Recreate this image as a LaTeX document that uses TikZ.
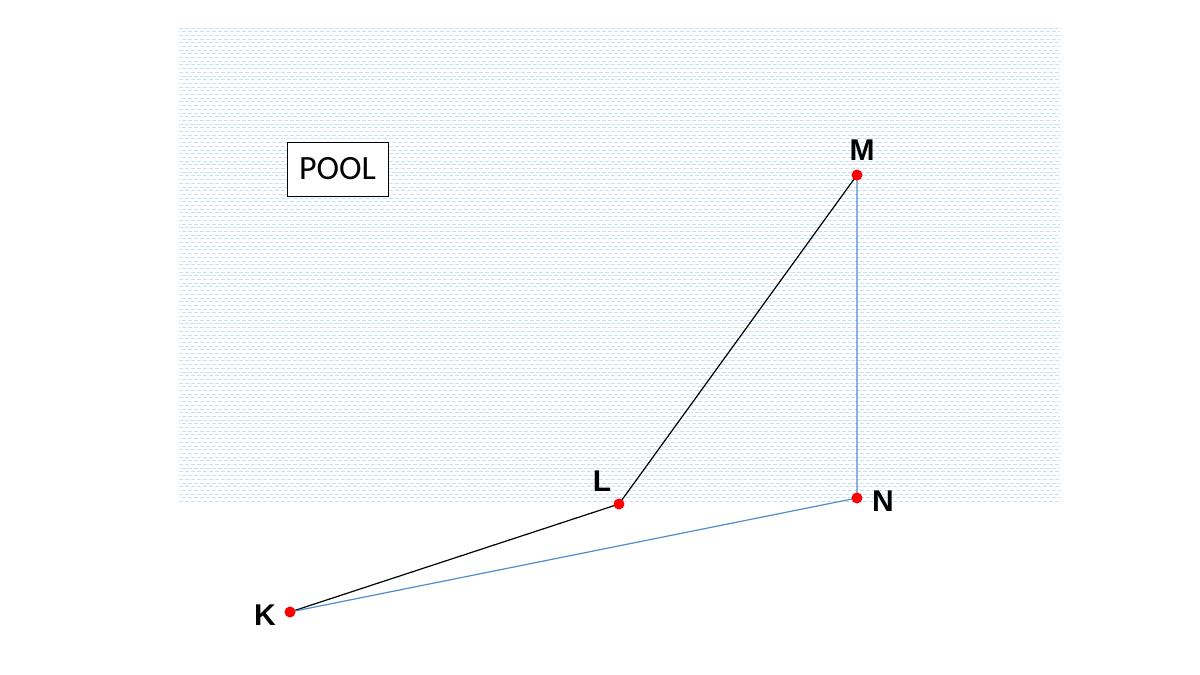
\documentclass[tikz,border=0pt]{standalone}
\usepackage{fontspec}
\setmainfont{Carlito}
\newfontfamily\lblfont{Liberation Sans}
\begin{document}
\begin{tikzpicture}[x=1pt,y=-1pt,
  dot/.style={circle,fill=red,inner sep=0pt,minimum size=11pt},
  lbl/.style={font=\lblfont\fontsize{30}{31}\selectfont\bfseries,inner sep=0pt},
  blk/.style={draw=black,line width=1.2pt},
  blu/.style={draw=lineblue,line width=1.2pt}]
\definecolor{lineblue}{RGB}{80,140,205}
\definecolor{poolblue}{RGB}{200,224,245}
\useasboundingbox (0,0) rectangle (1200,675);
\begin{scope}
\clip (179,27) rectangle (1060,503);
\foreach \i in {0,...,128}{
  \pgfmathsetmacro{\yy}{floor(28+3.7*\i)+0.5}
  \pgfmathsetmacro{\ph}{mod(\i,2)*3}
  \draw[poolblue,line width=1pt,dash pattern=on 4pt off 2pt,dash phase=\ph pt] (179,\yy) -- (1062,\yy);
}
\end{scope}
\node[draw=black,line width=1pt,fill=white,minimum width=101pt,minimum height=54pt,inner sep=0pt,font=\fontsize{34}{36}\selectfont] (pool) at (337.5,169) {POOL};
\coordinate (M) at (857,175);
\coordinate (N) at (857,498);
\coordinate (L) at (619,504);
\coordinate (K) at (290,612);
\draw[blk] (K) -- (L) -- (M);
\draw[blu] (M) -- (N) -- (K);
\node[dot] (dM) at (M) {};
\node[dot] (dN) at (N) {};
\node[dot] (dL) at (L) {};
\node[dot] (dK) at (K) {};
\node[lbl] (tM) at (862,150) {M};
\node[lbl] (tN) at (883,501) {N};
\node[lbl] (tL) at (602,481) {L};
\node[lbl] (tK) at (265,615) {K};
\end{tikzpicture}
\end{document}
